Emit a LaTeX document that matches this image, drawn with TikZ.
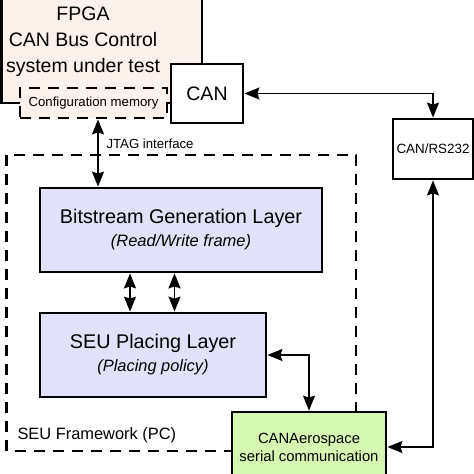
\documentclass[tikz,border=0pt]{standalone}
\usepackage{fontspec}
\setmainfont{Liberation Sans}
\usetikzlibrary{arrows.meta}

\definecolor{fpgafill}{RGB}{252,241,235}
\definecolor{layerfill}{RGB}{225,225,249}
\definecolor{commfill}{RGB}{214,247,178}

\begin{document}
\begin{tikzpicture}[x=1pt, y=-1pt,
    box/.style={draw, line width=2.8pt, inner sep=0pt, align=center},
    dashbox/.style={draw, line width=2.8pt, dash pattern=on 11pt off 8pt},
    link/.style={line width=1.6pt, {Stealth[length=15pt,width=12pt,inset=2pt]}-{Stealth[length=15pt,width=12pt,inset=2pt]}}]
    \clip (0,0) rectangle (474,474);

    % Draw the FPGA board, its top runs off the picture
    \node[box, fill=fpgafill, minimum width=200.5pt, minimum height=133pt] (fpga) at (101.75,36.5) {};
    \node[align=center, font=\fontsize{19.5}{26}\selectfont] (fpgatext) at (83,41.5)
        {FPGA\\CAN Bus Control\\system under test};

    % Draw configuration memory and CAN controller
    \node[dashbox, fill=fpgafill, minimum width=147pt, minimum height=30pt, inner sep=0pt,
        font=\fontsize{13.2}{15}\selectfont] (cfgmem) at (93.5,103) {Configuration memory};
    \node[box, fill=white, minimum width=72pt, minimum height=59pt,
        font=\fontsize{19.5}{22}\selectfont] (can) at (207,93.5) {CAN};
    \node[box, fill=white, minimum width=80pt, minimum height=60pt,
        font=\fontsize{13.4}{15}\selectfont] (rs232) at (433,149) {CAN/RS232};

    % Draw the SEU framework frame
    \draw[dashbox] (6.5,155) rectangle (356,451);
    \node[anchor=west, font=\fontsize{16.4}{18}\selectfont] (framework) at (14,435) {SEU Framework (PC)};

    % Draw the layers
    \node[box, fill=layerfill, minimum width=282pt, minimum height=84pt,
        font=\fontsize{19.8}{23}\selectfont] (bitstream) at (181,230)
        {Bitstream Generation Layer\\{\fontsize{16.5}{23}\selectfont\itshape (Read/Write frame)}};
    \node[box, fill=layerfill, minimum width=226pt, minimum height=84pt,
        font=\fontsize{19.8}{23}\selectfont] (seu) at (153,355)
        {SEU Placing Layer\\{\fontsize{16.4}{23}\selectfont\itshape (Placing policy)}};

    % Draw the serial link box
    \node[box, fill=commfill, minimum width=154pt, minimum height=70pt,
        font=\fontsize{14.8}{18}\selectfont] (canaero) at (309,447)
        {CANAerospace\\serial communication};

    % Draw connections
    \coordinate (jtag) at (98,0);
    \coordinate (leftlink) at (130,0);
    \coordinate (rightlink) at (174.5,0);
    \draw[link] (cfgmem.south -| jtag) -- (bitstream.north -| jtag);
    \draw[link] (bitstream.south -| leftlink) -- (seu.north -| leftlink);
    \draw[link] (bitstream.south -| rightlink) -- (seu.north -| rightlink);
    \draw[link] (can.east) -| (rs232.north);
    \draw[link] (seu.east) -| (canaero.north);
    \draw[link] (rs232.south) |- (canaero.east);

    % Add labels
    \node[anchor=west, font=\fontsize{13.2}{15}\selectfont] (jtaglabel) at (103,143.5) {JTAG interface};
\end{tikzpicture}
\end{document}
